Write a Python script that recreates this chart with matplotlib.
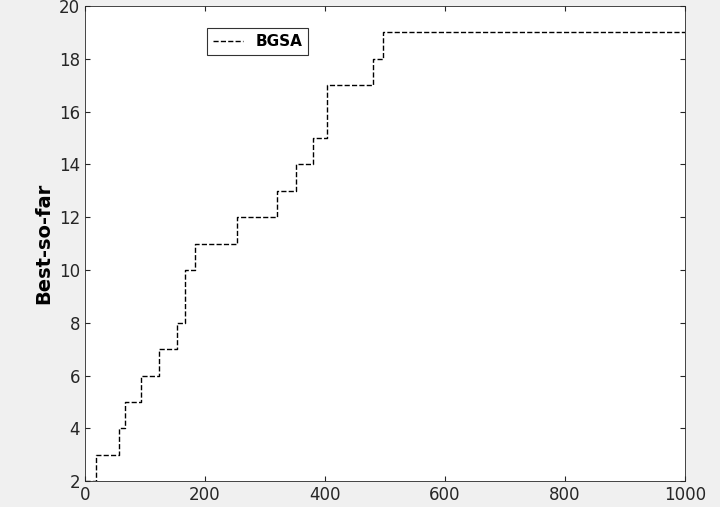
import matplotlib.pyplot as plt

# step points (iteration where best value changes)
iters = [0, 18, 57, 67, 93, 123, 153, 167, 183, 253, 320, 352, 380, 403, 480, 497, 1000]
best = [2, 3, 4, 5, 6, 7, 8, 10, 11, 12, 13, 14, 15, 17, 18, 19, 19]

fig = plt.figure(figsize=(7.2, 5.07), dpi=100, facecolor='#f0f0f0')
ax = fig.add_axes([0.118, 0.051, 0.833, 0.937])
ax.step(iters, best, where='post', color='black', linestyle='--', linewidth=1, label='BGSA')
ax.set_xlim(0, 1000)
ax.set_ylim(2, 20)
ax.set_xticks(range(0, 1001, 200))
ax.set_yticks(range(2, 21, 2))
ax.tick_params(direction='in', labelsize=12, colors='#262626', top=True, right=True)
for s in ax.spines.values():
    s.set_color('#262626')
    s.set_linewidth(0.6)
ax.set_ylabel('Best-so-far', fontsize=14, fontweight='bold')
leg = ax.legend(loc='upper left', bbox_to_anchor=(0.19, 0.97), fancybox=False,
                edgecolor='black', prop={'weight': 'bold', 'size': 11})
leg.get_frame().set_linewidth(0.8)
fig.savefig('out.png', dpi=100, facecolor=fig.get_facecolor())
